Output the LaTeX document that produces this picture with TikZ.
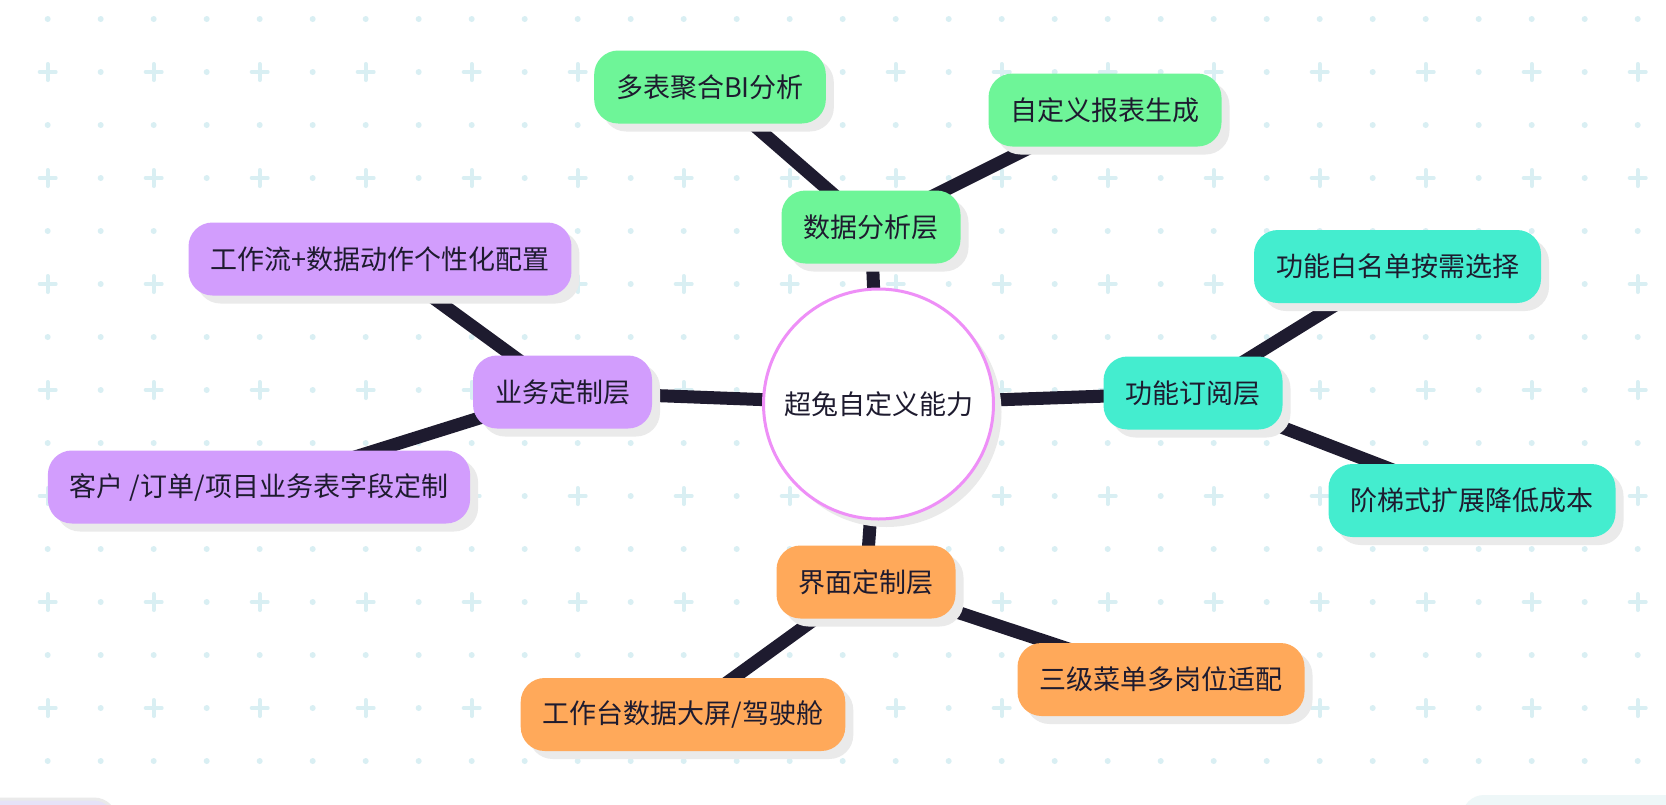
\documentclass[tikz,border=0pt]{standalone}
\usepackage{fontspec}
\setmainfont{Noto Sans CJK SC}
\usetikzlibrary{shadows}
\definecolor{inkcolor}{HTML}{1E1B2F}
\definecolor{linkcolor}{HTML}{1E1B2F}
\definecolor{gridcolor}{HTML}{D9EFF3}
\definecolor{shadowgray}{HTML}{EAEAEA}
\definecolor{rootpink}{HTML}{EE8FF7}
\definecolor{datagreen}{HTML}{6EF598}
\definecolor{subteal}{HTML}{44EDCF}
\definecolor{bizpurple}{HTML}{D29DFD}
\definecolor{uiorange}{HTML}{FFA95A}
\definecolor{edgelavender}{HTML}{E6E2F8}
\definecolor{edgecyan}{HTML}{EEF7F8}
\pgfdeclarelayer{grid}
\pgfdeclarelayer{links}
\pgfsetlayers{grid,links,main}
\tikzset{
	topicstyle/.style={rectangle,rounded corners=24pt,minimum height=73pt,inner xsep=22pt,text=inkcolor,font=\fontsize{27}{32}\selectfont,general shadow={fill=shadowgray,shadow xshift=8pt,shadow yshift=-8pt}},
	rootstyle/.style={circle,draw=rootpink,line width=3pt,fill=white,minimum size=230pt,text=inkcolor,font=\fontsize{27}{32}\selectfont,general shadow={fill=shadowgray,shadow xshift=8pt,shadow yshift=-8pt}},
	datastyle/.style={topicstyle,fill=datagreen},
	substyle/.style={topicstyle,fill=subteal},
	bizstyle/.style={topicstyle,fill=bizpurple},
	uistyle/.style={topicstyle,fill=uiorange},
	linkstyle/.style={draw=linkcolor,line width=13pt},
	plusstyle/.style={draw=gridcolor,line width=4pt,line cap=round}
}
\begin{document}
\begin{tikzpicture}[x=1pt,y=-1pt]
	\useasboundingbox (0,0) rectangle (1666,804);
	\begin{pgfonlayer}{grid}
		\fill[white] (0,0) rectangle (1666,804);
		\foreach \j in {0,2,...,14}
			\foreach \k in {0,...,30}
				\fill[gridcolor] ({47.7+53*\k},{19+53*\j}) circle (3pt);
		\foreach \j in {1,3,...,13} {
			\foreach \k in {0,2,...,30}
				\draw[plusstyle] ({39.7+53*\k},{19+53*\j}) -- ({55.7+53*\k},{19+53*\j})
					({47.7+53*\k},{11+53*\j}) -- ({47.7+53*\k},{27+53*\j});
			\foreach \k in {1,3,...,29}
				\fill[gridcolor] ({47.7+53*\k},{19+53*\j}) circle (3pt);
		}
		\clip (0,0) rectangle (1666,804);
		\draw[fill=edgelavender,draw=shadowgray,line width=3pt,rounded corners=22pt] (-60,799) rectangle (116,880);
		\fill[edgecyan,rounded corners=22pt] (1462,795) rectangle (1720,880);
	\end{pgfonlayer}
	% centre
	\node[rootstyle] (root) at (878.5,404) {超兔自定义能力};
	% data analysis
	\node[datastyle] (data) at (871,227) {数据分析层};
	\node[datastyle] (bi) at (710,87) {多表聚合BI分析};
	\node[datastyle] (report) at (1105,110) {自定义报表生成};
	% subscription
	\node[substyle] (sub) at (1193,393) {功能订阅层};
	\node[substyle] (whitelist) at (1397.5,266.5) {功能白名单按需选择};
	\node[substyle] (tier) at (1472,500.5) {阶梯式扩展降低成本};
	% business
	\node[bizstyle] (biz) at (562.5,392) {业务定制层};
	\node[bizstyle] (flow) at (380,259) {工作流+数据动作个性化配置};
	\node[bizstyle] (field) at (259,487) {客户 /订单/项目业务表字段定制};
	% interface
	\node[uistyle] (ui) at (866,582) {界面定制层};
	\node[uistyle] (screen) at (683,714.5) {工作台数据大屏/驾驶舱};
	\node[uistyle] (menu) at (1161,679.5) {三级菜单多岗位适配};
	\begin{pgfonlayer}{links}
		\draw[linkstyle] (root.center)--(data.center);
		\draw[linkstyle] (root.center)--(sub.center);
		\draw[linkstyle] (root.center)--(biz.center);
		\draw[linkstyle] (root.center)--(ui.center);
		\draw[linkstyle] (data.center)--(bi.center);
		\draw[linkstyle] (data.center)--(report.center);
		\draw[linkstyle] (sub.center)--(whitelist.center);
		\draw[linkstyle] (sub.center)--(tier.center);
		\draw[linkstyle] (biz.center)--(flow.center);
		\draw[linkstyle] (biz.center)--(field.center);
		\draw[linkstyle] (ui.center)--(screen.center);
		\draw[linkstyle] (ui.center)--(menu.center);
	\end{pgfonlayer}
\end{tikzpicture}
\end{document}
